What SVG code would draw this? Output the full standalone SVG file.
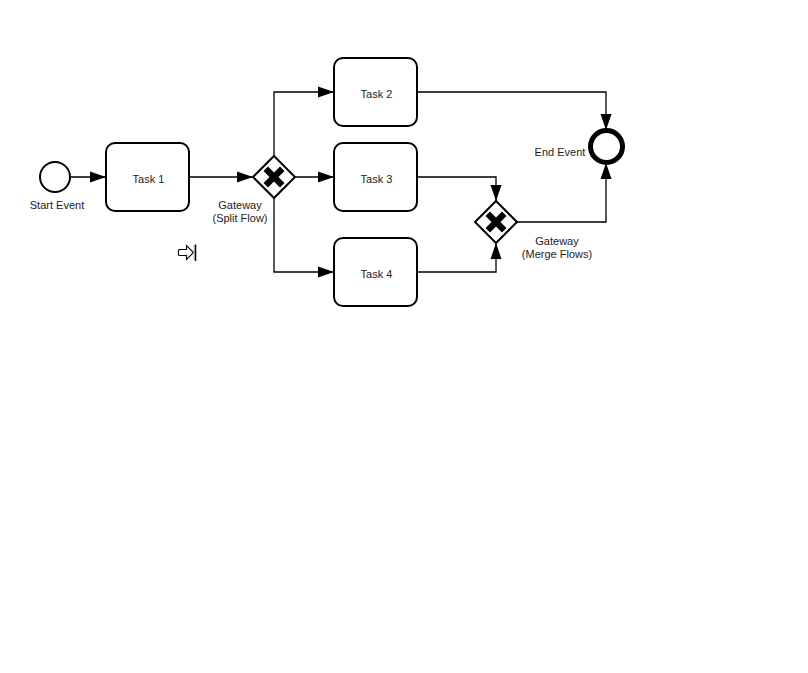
<svg xmlns="http://www.w3.org/2000/svg" width="808" height="673" viewBox="0 0 808 673">
<style>
text{font-family:"Liberation Sans",Arial,sans-serif;font-size:11px;fill:#1a1a1a;text-anchor:middle;opacity:.99}
.t{fill:#fff;stroke:#000;stroke-width:2}
.c{fill:none;stroke:#000;stroke-width:1.3}
.g{fill:#fff;stroke:#000;stroke-width:2}
</style>
<defs>
<marker id="a" markerUnits="userSpaceOnUse" markerWidth="16" markerHeight="12" refX="16" refY="6" orient="auto"><path d="M0 0.5L16 6L0 11.5z" fill="#000"/></marker>
<path id="x" d="M-6-10.500L0-4.500L6-10.500L10.500-6L4.500 0L10.500 6L6 10.500L0 4.500L-6 10.500L-10.500 6L-4.500 0L-10.500-6z" fill="#000"/>
</defs>
<rect width="808" height="673" fill="#fff"/>
<g id="connectors">
<path class="c" marker-end="url(#a)" d="M71 177H106"/>
<path class="c" marker-end="url(#a)" d="M189 177H253"/>
<path class="c" marker-end="url(#a)" d="M295 177H334"/>
<path class="c" marker-end="url(#a)" d="M274 156V92H334"/>
<path class="c" marker-end="url(#a)" d="M274 198V272H334"/>
<path class="c" marker-end="url(#a)" d="M417 92H606V130"/>
<path class="c" marker-end="url(#a)" d="M417 177H496V201"/>
<path class="c" marker-end="url(#a)" d="M417 272H496V243"/>
<path class="c" marker-end="url(#a)" d="M517 222H606V163"/>
</g>
<g id="start-event"><circle cx="55" cy="177" r="15" fill="#fff" stroke="#000" stroke-width="2"/><text x="57" y="209">Start Event</text></g>
<g id="task-1"><rect class="t" x="106" y="143" width="83" height="68" rx="9"/><text x="148.500" y="183">Task 1</text></g>
<g id="task-2"><rect class="t" x="334" y="58" width="83" height="68" rx="9"/><text x="376.500" y="98">Task 2</text></g>
<g id="task-3"><rect class="t" x="334" y="143" width="83" height="68" rx="9"/><text x="376.500" y="183">Task 3</text></g>
<g id="task-4"><rect class="t" x="334" y="238" width="83" height="68" rx="9"/><text x="376.500" y="278">Task 4</text></g>
<g id="gateway-split"><path class="g" d="M274 156L295 177L274 198L253 177z"/><use href="#x" x="274" y="177"/><text x="240" y="209">Gateway</text><text x="240" y="222">(Split Flow)</text></g>
<g id="gateway-merge"><path class="g" d="M496 201L517 222L496 243L475 222z"/><use href="#x" x="496" y="222"/><text x="557" y="245">Gateway</text><text x="557" y="258">(Merge Flows)</text></g>
<g id="end-event"><circle cx="606.500" cy="146.500" r="16" fill="#fff" stroke="#000" stroke-width="5"/><text x="560" y="156">End Event</text></g>
<g id="cursor"><path d="M179 249.500H186.500V245.500L193.500 252.500L186.500 259.500V255.500H179Q177.500 252.500 179 249.500z" fill="#fff" stroke="#000" stroke-width="1.100"/><path d="M194 245V260" fill="none" stroke="#bbb" stroke-width="1"/><path d="M195.500 244.500V261" fill="none" stroke="#000" stroke-width="1.500"/></g>
</svg>
